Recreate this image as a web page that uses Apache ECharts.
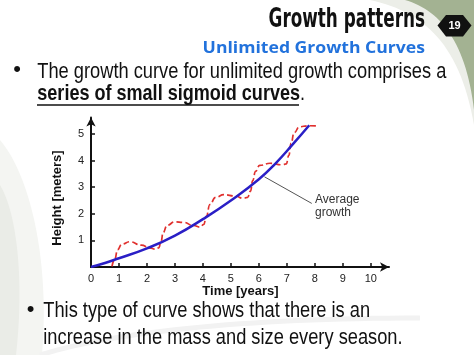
<!DOCTYPE html>
<html>
<head>
<meta charset="utf-8">
<style>
html,body{margin:0;padding:0;background:#fff;}
#c{width:474px;height:355px;}
</style>
<script src="https://cdn.jsdelivr.net/npm/echarts@6/dist/echarts.min.js"></script>
</head>
<body>
<div id="c"></div>
<script>
// ---- data ----
var titleText = "Growth patterns";
var slideNumber = "19";
var subtitleText = "Unlimited Growth Curves";
var bullet1a = "The growth curve for unlimited growth comprises a";
var bullet1b = "series of small sigmoid curves";
var bullet2a = "This type of curve shows that there is an";
var bullet2b = "increase in the mass and size every season.";
var xAxisName = "Time [years]";
var yAxisName = "Height [meters]";
var annotationText = ["Average", "growth"];

var xTickLabels = [0, 1, 2, 3, 4, 5, 6, 7, 8, 9, 10];
var xTickMarks = [1, 2, 3, 4, 5, 6, 7, 8, 9, 10];
var yTickLabels = [1, 2, 3, 4, 5];

// average growth (time in years, height in meters)
var avgTime   = [0, 0.5, 1, 2, 3, 4, 5, 6, 6.6, 7.2, 7.8];
var avgHeight = [0, 0.15, 0.33, 0.7, 1.18, 1.8, 2.5, 3.3, 3.9, 4.6, 5.33];

// seasonal (sigmoid steps) growth
var stepTime   = [0.75, 0.85, 0.95, 1.1, 1.39, 1.8, 2.1, 2.3, 2.42, 2.5, 2.58, 2.72, 3.0, 3.3, 3.66, 3.9, 4.03, 4.12, 4.25, 4.45, 4.75, 5.15, 5.45, 5.6, 5.7, 5.78, 5.88, 6.03, 6.4, 6.85, 6.98, 7.07, 7.15, 7.26, 7.45, 7.75, 8.13];
var stepHeight = [0.02, 0.3, 0.65, 0.86, 0.95, 0.82, 0.72, 0.67, 0.72, 0.95, 1.3, 1.57, 1.7, 1.68, 1.56, 1.5, 1.6, 1.9, 2.35, 2.62, 2.72, 2.67, 2.58, 2.62, 2.85, 3.25, 3.6, 3.82, 3.9, 3.84, 3.88, 4.2, 4.65, 5.05, 5.27, 5.31, 5.3];

// leader line for the "Average growth" note
var leaderTime = [6.2, 7.89];
var leaderHeight = [3.39, 2.39];

function zip(a, b) { return a.map(function (v, i) { return [v, b[i]]; }); }

// decorative background shape helper (cubic bezier edge + closing corner points)
function bez(p0, p1, p2, p3, extra) {
  var pts = [];
  for (var i = 0; i <= 30; i++) {
    var t = i / 30, u = 1 - t;
    pts.push([
      u*u*u*p0[0] + 3*u*u*t*p1[0] + 3*u*t*t*p2[0] + t*t*t*p3[0],
      u*u*u*p0[1] + 3*u*u*t*p1[1] + 3*u*t*t*p2[1] + t*t*t*p3[1]
    ]);
  }
  return pts.concat(extra || []);
}

var chart = echarts.init(document.getElementById('c'), null, {renderer: 'canvas'});
var SANS = 'Liberation Sans, Arial, sans-serif';

var option = {
  backgroundColor: '#ffffff',
  animation: false,
  grid: {left: 91, right: 85, top: 117.5, bottom: 88, containLabel: false},
  xAxis: {
    type: 'value', min: 0, max: 10.65,
    axisLine: {show: true, onZero: false, lineStyle: {color: '#111', width: 2}, symbol: ['none', 'arrow'], symbolSize: [7, 9]},
    axisTick: {show: true, inside: true, length: 4, lineStyle: {color: '#111', width: 1.5}, customValues: xTickMarks},
    axisLabel: {customValues: xTickLabels, color: '#222', fontSize: 11, margin: 6, fontFamily: SANS},
    splitLine: {show: false}
  },
  yAxis: {
    type: 'value', min: 0, max: 5.62,
    axisLine: {show: true, onZero: false, lineStyle: {color: '#111', width: 2}, symbol: ['none', 'arrow'], symbolSize: [7, 9]},
    axisTick: {show: true, inside: true, length: 4, lineStyle: {color: '#111', width: 1.5}, customValues: yTickLabels},
    axisLabel: {customValues: yTickLabels, color: '#222', fontSize: 11, margin: 7, fontFamily: SANS},
    splitLine: {show: false}
  },
  series: [
    {
      type: 'line', data: zip(leaderTime, leaderHeight), showSymbol: false, silent: true,
      lineStyle: {color: '#555', width: 1}, z: 1
    },
    {
      type: 'line', data: zip(stepTime, stepHeight), showSymbol: false, smooth: 0.5, smoothMonotone: 'x',
      lineStyle: {color: '#e0302e', width: 1.7, type: [6, 3]}, z: 2
    },
    {
      type: 'line', data: zip(avgTime, avgHeight), showSymbol: false, smooth: 0.5,
      lineStyle: {color: '#2a1fc6', width: 2.5}, z: 3
    }
  ],
  graphic: [
    // background swooshes
    {type: 'polygon', z: -10, shape: {points: bez([370, 0], [425, 12], [460, 45], [474, 125], [[474, 0]])}, style: {fill: '#eceee8'}},
    {type: 'polygon', z: -9, shape: {points: bez([405, 0], [440, 10], [466, 42], [474, 110], [[474, 0]])}, style: {fill: '#a3b292'}},
    {type: 'polygon', z: -10, shape: {points: bez([0, 140], [30, 175], [50, 260], [42, 355], [[0, 355]])}, style: {fill: '#f4f5f2'}},
    {type: 'polygon', z: -9, shape: {points: bez([0, 185], [18, 215], [24, 285], [16, 355], [[0, 355]])}, style: {fill: '#eaece7'}},
    {type: 'polyline', z: -9, shape: {points: bez([40, 355], [120, 330], [260, 318], [420, 318])}, style: {stroke: '#f2f2f2', lineWidth: 5}},
    // title
    {type: 'text', x: 425, y: 20.5, scaleX: 0.72, z: 10,
     style: {text: titleText, x: 0, y: 0, textAlign: 'right', textVerticalAlign: 'middle', font: 'bold 26px "DejaVu Sans Condensed", "DejaVu Sans"', fill: '#111'}},
    // slide number badge
    {type: 'polygon', z: 10, shape: {points: [[437.5, 25.5], [446, 15], [463, 15], [471.5, 25.5], [463, 36.5], [446, 36.5]]}, style: {fill: '#111'}},
    {type: 'text', z: 11, style: {text: slideNumber, x: 454.5, y: 26, textAlign: 'center', textVerticalAlign: 'middle', font: 'bold 11px ' + SANS, fill: '#fff'}},
    // subtitle
    {type: 'text', x: 425, y: 48.5, scaleX: 1.1, z: 10,
     style: {text: subtitleText, x: 0, y: 0, textAlign: 'right', textVerticalAlign: 'middle', font: 'bold 16px "Open Sans"', fill: '#2272dc'}},
    // bullet 1
    {type: 'text', x: 17, y: 69.5, z: 10, style: {text: '\u2022', x: 0, y: 0, textAlign: 'center', textVerticalAlign: 'middle', font: '22px ' + SANS, fill: '#111'}},
    {type: 'text', x: 37.3, y: 71.5, scaleX: 0.83, z: 10,
     style: {text: bullet1a, x: 0, y: 0, textAlign: 'left', textVerticalAlign: 'middle', font: '22px ' + SANS, fill: '#111'}},
    {type: 'text', x: 37.3, y: 93.5, scaleX: 0.82, z: 10,
     style: {text: '{b|' + bullet1b + '}{n|.}', x: 0, y: 0, textAlign: 'left', textVerticalAlign: 'middle',
       rich: {b: {font: 'bold 22px ' + SANS, fill: '#111'}, n: {font: '22px ' + SANS, fill: '#111'}}}},
    {type: 'line', z: 10, shape: {x1: 37, y1: 105, x2: 299, y2: 105}, style: {stroke: '#111', lineWidth: 1.6}},
    // bullet 2
    {type: 'text', x: 30.7, y: 310, z: 10, style: {text: '\u2022', x: 0, y: 0, textAlign: 'center', textVerticalAlign: 'middle', font: '22px ' + SANS, fill: '#111'}},
    {type: 'text', x: 43.3, y: 311, scaleX: 0.83, z: 10,
     style: {text: bullet2a, x: 0, y: 0, textAlign: 'left', textVerticalAlign: 'middle', font: '22px ' + SANS, fill: '#111'}},
    {type: 'text', x: 43.3, y: 337.5, scaleX: 0.83, z: 10,
     style: {text: bullet2b, x: 0, y: 0, textAlign: 'left', textVerticalAlign: 'middle', font: '22px ' + SANS, fill: '#111'}},
    // axis names
    {type: 'text', z: 10, style: {text: xAxisName, x: 240.5, y: 291, textAlign: 'center', textVerticalAlign: 'middle', font: 'bold 13px ' + SANS, fill: '#111'}},
    {type: 'text', x: 57.5, y: 198, rotation: Math.PI / 2, z: 10,
     style: {text: yAxisName, x: 0, y: 0, textAlign: 'center', textVerticalAlign: 'middle', font: 'bold 13px ' + SANS, fill: '#111'}},
    // annotation
    {type: 'text', z: 10, style: {text: annotationText.join('\n'), x: 315, y: 193, textAlign: 'left', textVerticalAlign: 'top', font: '12px ' + SANS, lineHeight: 13, fill: '#333'}}
  ]
};
chart.setOption(option);
</script>
</body>
</html>
